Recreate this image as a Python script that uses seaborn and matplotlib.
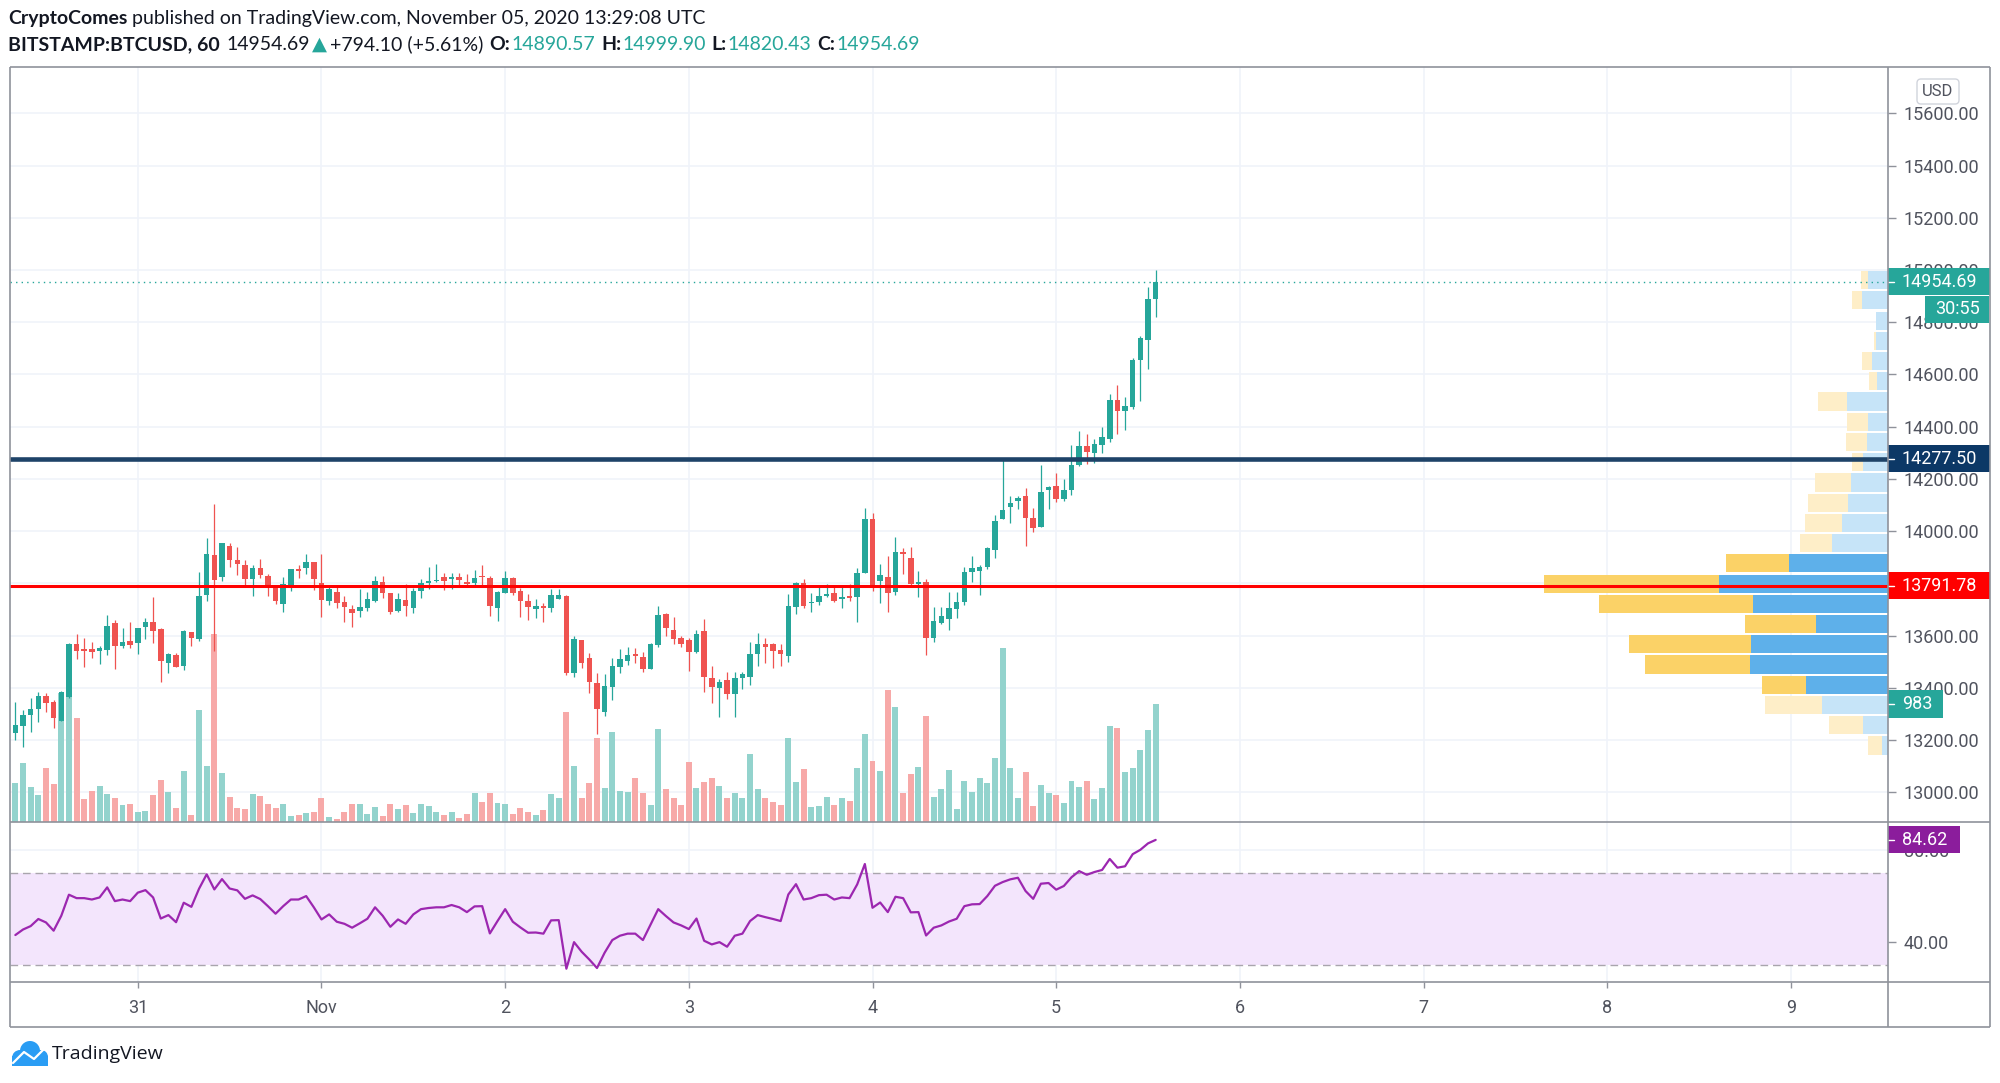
"""BTCUSD 1h chart (Bitstamp) in the TradingView look, redrawn with seaborn/matplotlib."""
import matplotlib
matplotlib.use('Agg')
import matplotlib.pyplot as plt
import matplotlib.transforms as mtransforms
from matplotlib.patches import Rectangle, FancyBboxPatch, Circle
import numpy as np
import pandas as pd
import seaborn as sns

# ---- data (hours counted from Oct 31 2020 00:00 UTC) ----
hours = np.arange(-16, 134)

opens = [13229, 13256, 13295, 13318, 13369, 13345, 13275, 13367, 13567, 13548,
         13548, 13541, 13545, 13647, 13562, 13580, 13571, 13635, 13654, 13626,
         13497, 13526, 13485, 13613, 13586, 13756, 13908, 13826, 13943, 13890,
         13871, 13816, 13860, 13830, 13788, 13721, 13790, 13854, 13858, 13881,
         13800, 13734, 13769, 13728, 13701, 13695, 13705, 13734, 13804, 13762,
         13696, 13737, 13707, 13771, 13800, 13809, 13823, 13816, 13823, 13807,
         13800, 13829, 13822, 13705, 13765, 13820, 13771, 13734, 13701, 13714,
         13705, 13740, 13752, 13456, 13583, 13513, 13420, 13309, 13402, 13481,
         13503, 13529, 13517, 13473, 13564, 13683, 13622, 13590, 13583, 13536,
         13618, 13439, 13401, 13430, 13376, 13437, 13441, 13530, 13567, 13567,
         13545, 13524, 13711, 13800, 13725, 13730, 13752, 13762, 13739, 13752,
         13747, 13841, 14045, 13810, 13823, 13767, 13920, 13897, 13799, 13806,
         13590, 13649, 13663, 13704, 13730, 13844, 13848, 13862, 13927, 14045,
         14094, 14115, 14133, 14050, 14015, 14158, 14172, 14122, 14157, 14252,
         14328, 14300, 14331, 14353, 14502, 14460, 14474, 14655, 14732, 14890.57]
highs = [13345, 13316, 13363, 13386, 13379, 13354, 13387, 13571, 13606, 13590,
         13577, 13562, 13679, 13660, 13628, 13654, 13628, 13666, 13747, 13631,
         13535, 13533, 13621, 13615, 13845, 13973, 14103, 13956, 13954, 13941,
         13890, 13871, 13894, 13835, 13790, 13826, 13854, 13871, 13911, 13881,
         13913, 13785, 13785, 13752, 13718, 13779, 13769, 13829, 13829, 13765,
         13762, 13797, 13781, 13816, 13862, 13874, 13839, 13841, 13841, 13835,
         13852, 13871, 13830, 13771, 13848, 13826, 13781, 13758, 13740, 13724,
         13777, 13777, 13756, 13599, 13583, 13533, 13456, 13453, 13516, 13548,
         13555, 13554, 13536, 13571, 13714, 13686, 13670, 13599, 13590, 13622,
         13664, 13485, 13433, 13460, 13460, 13460, 13575, 13609, 13592, 13571,
         13567, 13758, 13807, 13817, 13762, 13790, 13798, 13788, 13785, 13798,
         13860, 14088, 14068, 13876, 13904, 13977, 13934, 13941, 13848, 13816,
         13711, 13711, 13767, 13768, 13862, 13906, 13872, 13941, 14064, 14275,
         14136, 14136, 14164, 14087, 14252, 14175, 14221, 14199, 14331, 14384,
         14373, 14352, 14400, 14527, 14561, 14513, 14665, 14748, 14934, 14999.90]
lows = [13201, 13175, 13230, 13268, 13307, 13245, 13275, 13360, 13511, 13481,
        13513, 13490, 13526, 13472, 13552, 13552, 13530, 13587, 13573, 13421,
        13458, 13481, 13469, 13562, 13580, 13734, 13543, 13809, 13862, 13832,
        13794, 13753, 13820, 13753, 13720, 13692, 13771, 13822, 13836, 13775,
        13673, 13717, 13705, 13654, 13632, 13673, 13696, 13728, 13743, 13683,
        13692, 13677, 13686, 13743, 13777, 13807, 13775, 13779, 13794, 13790,
        13790, 13794, 13677, 13656, 13765, 13756, 13670, 13660, 13666, 13654,
        13689, 13739, 13450, 13441, 13475, 13379, 13224, 13294, 13354, 13458,
        13488, 13497, 13460, 13471, 13558, 13600, 13568, 13555, 13466, 13535,
        13386, 13341, 13290, 13358, 13290, 13396, 13411, 13485, 13497, 13475,
        13485, 13501, 13683, 13705, 13689, 13717, 13747, 13730, 13705, 13734,
        13654, 13839, 13771, 13727, 13691, 13757, 13838, 13795, 13750, 13525,
        13574, 13646, 13622, 13667, 13718, 13806, 13755, 13855, 13899, 14045,
        14033, 14084, 13943, 13997, 14015, 14084, 14112, 14116, 14140, 14249,
        14258, 14263, 14300, 14342, 14373, 14387, 14467, 14498, 14620, 14820.43]
closes = [13258, 13296, 13321, 13369, 13344, 13286, 13383, 13567, 13543, 13543,
          13539, 13554, 13638, 13562, 13577, 13564, 13628, 13654, 13618, 13503,
          13529, 13481, 13618, 13592, 13753, 13911, 13813, 13954, 13890, 13873,
          13817, 13858, 13832, 13788, 13733, 13798, 13854, 13849, 13881, 13817,
          13737, 13777, 13726, 13711, 13686, 13709, 13740, 13809, 13762, 13692,
          13740, 13714, 13771, 13800, 13809, 13813, 13811, 13823, 13813, 13798,
          13820, 13823, 13714, 13766, 13820, 13762, 13734, 13709, 13714, 13707,
          13756, 13756, 13456, 13586, 13497, 13424, 13319, 13407, 13484, 13510,
          13526, 13524, 13473, 13567, 13679, 13631, 13586, 13568, 13539, 13606,
          13441, 13405, 13421, 13376, 13439, 13453, 13530, 13568, 13558, 13541,
          13530, 13714, 13803, 13715, 13730, 13752, 13758, 13734, 13749, 13743,
          13841, 14045, 13785, 13834, 13764, 13922, 13913, 13799, 13806, 13590,
          13656, 13674, 13706, 13730, 13844, 13858, 13862, 13935, 14040, 14080,
          14108, 14129, 14050, 14012, 14151, 14168, 14123, 14157, 14254, 14328,
          14304, 14335, 14359, 14502, 14460, 14478, 14655, 14739, 14888, 14954.69]
volumes = [323, 489, 293, 224, 447, 317, 1068, 1040, 867, 190,
           262, 301, 235, 199, 141, 149, 88, 97, 226, 351,
           254, 121, 428, 61, 930, 469, 1557, 406, 210, 121,
           110, 235, 218, 155, 116, 155, 55, 58, 80, 88,
           199, 41, 30, 88, 155, 149, 66, 127, 52, 149,
           108, 141, 77, 149, 135, 83, 58, 83, 39, 72,
           240, 166, 240, 160, 149, 72, 121, 86, 61, 102,
           235, 204, 911, 466, 204, 323, 696, 287, 751, 262,
           248, 364, 246, 141, 770, 273, 199, 141, 502, 282,
           337, 364, 301, 204, 240, 204, 566, 273, 199, 171,
           141, 696, 337, 439, 124, 135, 207, 141, 204, 179,
           453, 731, 511, 425, 1093, 951, 244, 400, 455, 882,
           208, 274, 431, 108, 343, 250, 364, 325, 536, 1445,
           446, 205, 419, 139, 313, 241, 229, 160, 343, 289,
           343, 190, 280, 801, 777, 419, 452, 596, 762, 983]
rsi = [43.1, 45.5, 47.0, 50.1, 48.6, 45.0, 51.5, 60.7, 59.2, 59.2,
       58.6, 59.5, 63.9, 57.9, 58.6, 57.9, 61.6, 62.7, 59.5, 50.3,
       51.8, 48.7, 57.2, 55.4, 63.3, 69.6, 63.0, 67.5, 63.4, 62.6,
       58.9, 60.4, 58.8, 55.7, 52.4, 55.7, 58.6, 58.6, 60.1, 55.2,
       49.9, 52.1, 48.9, 48.0, 46.3, 48.2, 50.2, 55.2, 51.5, 46.7,
       49.9, 48.0, 52.1, 54.4, 54.9, 55.2, 55.2, 56.2, 55.2, 53.1,
       55.6, 55.7, 43.8, 49.2, 54.4, 48.9, 46.4, 44.1, 44.2, 43.7,
       49.5, 49.6, 28.4, 40.0, 35.8, 32.4, 28.7, 35.4, 40.9, 42.8,
       43.7, 43.7, 40.9, 47.7, 54.4, 51.4, 48.6, 47.3, 45.7, 50.3,
       40.6, 39.0, 40.0, 38.0, 42.8, 43.7, 49.2, 51.8, 50.9, 50.1,
       49.2, 60.8, 65.3, 58.6, 59.2, 60.5, 60.7, 58.6, 59.5, 59.2,
       65.2, 74.1, 55.0, 57.3, 53.1, 59.8, 59.2, 53.0, 53.1, 42.9,
       46.3, 47.3, 49.0, 50.2, 55.7, 56.5, 56.6, 60.1, 64.6, 66.2,
       67.4, 68.1, 62.3, 58.9, 65.5, 65.8, 62.9, 64.5, 68.3, 71.0,
       69.4, 70.6, 71.5, 76.3, 72.5, 73.1, 78.4, 80.3, 83.1, 84.62]

# visible range volume profile, 24 rows from the range high down to the low
vp_high, vp_low = 14999.90, 13141.0
vp_up = [20.7, 26.7, 12.3, 12.3, 16.7, 11.7, 41.0, 20.7, 21.7, 25.7, 37.3, 40.7,
         46.0, 56.0, 99.3, 169.3, 135.7, 72.7, 137.7, 138.3, 82.3, 66.7, 25.0, 6.7]
vp_down = [7.0, 9.3, 0.0, 2.0, 9.3, 7.7, 29.0, 20.3, 21.0, 11.0, 36.0, 39.3,
           37.3, 32.3, 63.3, 175.0, 153.7, 70.7, 121.3, 104.7, 44.3, 56.7, 34.3, 13.3]
value_area = range(14, 21)

resistance = 14277.50
support = 13791.78
last_price = 14954.69
countdown = '30:55'

day_hours = np.arange(0, 217, 24)
day_labels = ['31', 'Nov', '2', '3', '4', '5', '6', '7', '8', '9']

# ---- look ----
UP, DOWN = '#26a69a', '#ef5350'
UP_VOL, DOWN_VOL = '#93d3cd', '#f7a9a8'
GRID = '#f0f3fa'
FRAME = '#8f929b'
TEXT = '#131722'
LABEL = '#50535e'

sns.set_theme(style='white')
plt.rcParams['font.family'] = ['Roboto', 'DejaVu Sans']

W, H = 2000, 1083
fig = plt.figure(figsize=(W / 100, H / 100), dpi=100)


def box(x0, y0, x1, y1):
    return [x0 / W, 1 - y1 / H, (x1 - x0) / W, (y1 - y0) / H]


PANE_L, PANE_R = 10, 1888.3
PANE_W = PANE_R - PANE_L
price_rect = box(PANE_L, 66.7, PANE_R, 822.3)

ax = fig.add_axes(price_rect)
ax_vol = ax.twinx()
ax_vp = fig.add_axes(price_rect, sharey=ax)
ax_top = fig.add_axes(price_rect, sharex=ax, sharey=ax)
ax_rsi = fig.add_axes(box(PANE_L, 822.3, PANE_R, 982), sharex=ax)

xmin, xmax = -16.70, 228.73
ax.set_xlim(xmin, xmax)
ax.set_ylim(12885.6, 15778.4)
ax_vol.set_ylim(0, 6257)
ax_rsi.set_ylim(22.6, 92.3)

for a in (ax, ax_vol, ax_vp, ax_top, ax_rsi):
    for s in a.spines.values():
        s.set_visible(False)
ax_vp.set_xticks([])
for a in (ax_vol, ax_vp, ax_top):
    a.patch.set_visible(False)
    a.tick_params(left=False, right=False, bottom=False, labelleft=False,
                  labelright=False, labelbottom=False)

# grid + price scale
ax.set_xticks(day_hours)
ax.set_yticks(np.arange(13000, 15601, 200))
ax.yaxis.tick_right()
ax.yaxis.set_major_formatter(matplotlib.ticker.FormatStrFormatter('%.2f'))
ax.tick_params(axis='y', right=True, length=6, width=1, color=FRAME,
               labelsize=13, labelcolor=LABEL, pad=5)
ax.tick_params(axis='x', bottom=False, labelbottom=False)
ax.grid(True, color=GRID, lw=1.2)
ax.set_axisbelow(True)

# volume
df = pd.DataFrame({'hour': hours, 'open': opens, 'high': highs, 'low': lows,
                   'close': closes, 'volume': volumes, 'rsi': rsi})
rising = df['close'] >= df['open']
ax_vol.bar(df['hour'], df['volume'], width=0.78, linewidth=0,
           color=np.where(rising, UP_VOL, DOWN_VOL))

# volume profile
row_h = (vp_high - vp_low) / len(vp_up)
row_mid = vp_high - row_h * (np.arange(len(vp_up)) + 0.5)
ax_vp.set_xlim(PANE_W, 0)
in_va = np.isin(np.arange(len(vp_up)), list(value_area))
ax_vp.barh(row_mid, vp_up, height=row_h * 0.9, left=0, linewidth=0,
           color=np.where(in_va, '#5eb0ea', '#c6e4f8'))
ax_vp.barh(row_mid, vp_down, height=row_h * 0.9, left=vp_up, linewidth=0,
           color=np.where(in_va, '#fbd267', '#feeec8'))

# candles
col = np.where(rising, UP, DOWN)
ax_top.vlines(df['hour'], df['low'], df['high'], colors=col, lw=0.9)
body_lo = np.minimum(df['open'], df['close'])
body_h = np.maximum(np.abs(df['close'] - df['open']), 3.5)
ax_top.bar(df['hour'], body_h, bottom=body_lo, width=0.72, color=col, linewidth=0)

ax_top.axhline(last_price, color=UP, lw=1.0, ls=(0, (1, 3)))
ax_top.axhline(resistance, color='#1e4368', lw=3.3)
ax_top.axhline(support, color='#ff0000', lw=2.2)

# RSI pane
ax_rsi.axhspan(30, 70, color='#f3e5fc', lw=0)
for lvl in (70, 30):
    ax_rsi.axhline(lvl, color='#a9a5ad', lw=1.0, dashes=(5.5, 3.5))
sns.lineplot(data=df, x='hour', y='rsi', ax=ax_rsi, color='#9c27b0', linewidth=1.6)
ax_rsi.set(xlabel='', ylabel='')
ax_rsi.set_yticks([40, 80])
ax_rsi.yaxis.tick_right()
ax_rsi.yaxis.set_major_formatter(matplotlib.ticker.FormatStrFormatter('%.2f'))
ax_rsi.tick_params(axis='y', right=True, left=False, length=6, width=1, color=FRAME,
                   labelsize=13, labelcolor=LABEL, pad=5)
ax_rsi.set_xticks(day_hours, labels=day_labels)
ax_rsi.tick_params(axis='x', bottom=True, length=4, width=1, color=FRAME,
                   labelsize=13, labelcolor=LABEL, pad=8.5)
ax_rsi.grid(True, color=GRID, lw=1.2)
ax_rsi.set_axisbelow(True)
ax_rsi.set_xlim(xmin, xmax)


# price tags on the right scale
def tag(host, yval, text, color, x0=0.0, x1=101.7, half=13.5, tx=13.4, ha='left', tick=True):
    tr = mtransforms.blended_transform_factory(host.transAxes, host.transData)
    lo, hi = host.get_ylim()
    px_per = (host.get_window_extent().height) / (hi - lo)
    dy = half / px_per
    host.add_patch(Rectangle((1 + x0 / PANE_W, yval - dy), (x1 - x0) / PANE_W, 2 * dy,
                             transform=tr, color=color, lw=0, clip_on=False, zorder=30))
    if tick:
        host.plot([1, 1 + 6 / PANE_W], [yval, yval], transform=tr, color='white',
                  lw=1, clip_on=False, zorder=31)
    xt = 1 + tx / PANE_W if ha == 'left' else 1 + (x0 + x1) / 2 / PANE_W
    host.text(xt, yval, text, transform=tr, color='white', fontsize=13, ha=ha,
              va='center', clip_on=False, zorder=32)


renderer = fig.canvas.get_renderer()
tag(ax, last_price, f'{last_price:.2f}', UP)
tag(ax, last_price - 27.5 / 0.2612, countdown, UP, x0=37, x1=101, ha='center', tick=False)
tag(ax, resistance, f'{resistance:.2f}', '#0c3866')
tag(ax, support, f'{support:.2f}', '#ff0000')
tag(ax_vol, volumes[-1], f'{volumes[-1]}', UP, x1=55, half=14)
tag(ax_rsi, rsi[-1], f'{rsi[-1]:.2f}', '#8b1d9c', x1=72)

# ---- frame, header and logo (pixel overlay) ----
ov = fig.add_axes([0, 0, 1, 1])
ov.set_xlim(0, W)
ov.set_ylim(H, 0)
ov.axis('off')
ov.patch.set_visible(False)

for (xa, ya, xb, yb) in [(10, 66.7, 1990, 66.7), (10, 1026.5, 1990, 1026.5),
                         (10, 822.3, 1990, 822.3), (10, 982, 1990, 982),
                         (10, 66.7, 10, 1026.5), (1990, 66.7, 1990, 1026.5),
                         (PANE_R, 66.7, PANE_R, 1026.5)]:
    ov.plot([xa, xb], [ya, yb], color=FRAME, lw=1.2, solid_capstyle='butt')

ov.add_patch(FancyBboxPatch((1917, 79), 42, 25, boxstyle='round,pad=0,rounding_size=4',
                            fc='white', ec='#d1d4dc', lw=1))
ov.text(1938, 91.5, 'USD', color=LABEL, fontsize=12, ha='center', va='center')

HEAD = ['Lato', 'DejaVu Sans']


def line_of(x, y, parts, size=14):
    for txt, color, bold, gap in parts:
        t = ov.text(x, y, txt, color=color, fontsize=size, ha='left', va='center',
                    fontweight='bold' if bold else 'normal', family=HEAD)
        x += t.get_window_extent(renderer).width + gap


line_of(8, 18.5, [('CryptoComes', TEXT, True, 5),
                  ('published on TradingView.com, November 05, 2020 13:29:08 UTC', TEXT, False, 0)])
line_of(8, 44.5, [('BITSTAMP:BTCUSD, 60', TEXT, True, 7),
                  (f'{last_price:.2f}', TEXT, False, 2),
                  ('\u25b2', UP, False, 3),
                  ('+794.10 (+5.61%)', TEXT, False, 6),
                  ('O:', TEXT, True, 1), (f'{opens[-1]:.2f}', UP, False, 6),
                  ('H:', TEXT, True, 1), (f'{highs[-1]:.2f}', UP, False, 6),
                  ('L:', TEXT, True, 1), (f'{lows[-1]:.2f}', UP, False, 6),
                  ('C:', TEXT, True, 1), (f'{closes[-1]:.2f}', UP, False, 0)])

# TradingView cloud logo
for cx, cy, r in [(20, 1058, 8), (30, 1051, 10), (41, 1057, 7)]:
    ov.add_patch(Circle((cx, cy), r, color='#2a9df4', lw=0))
ov.add_patch(Rectangle((12, 1056), 36, 9.5, color='#2a9df4', lw=0))
ov.plot([13, 24, 34, 44], [1063, 1052, 1059, 1049], color='white', lw=1.6)
ov.text(52, 1054, 'TradingView', color=TEXT, fontsize=14, ha='left', va='center',
        family=['Open Sans', 'DejaVu Sans'])

fig.savefig('out.png', dpi=100)
